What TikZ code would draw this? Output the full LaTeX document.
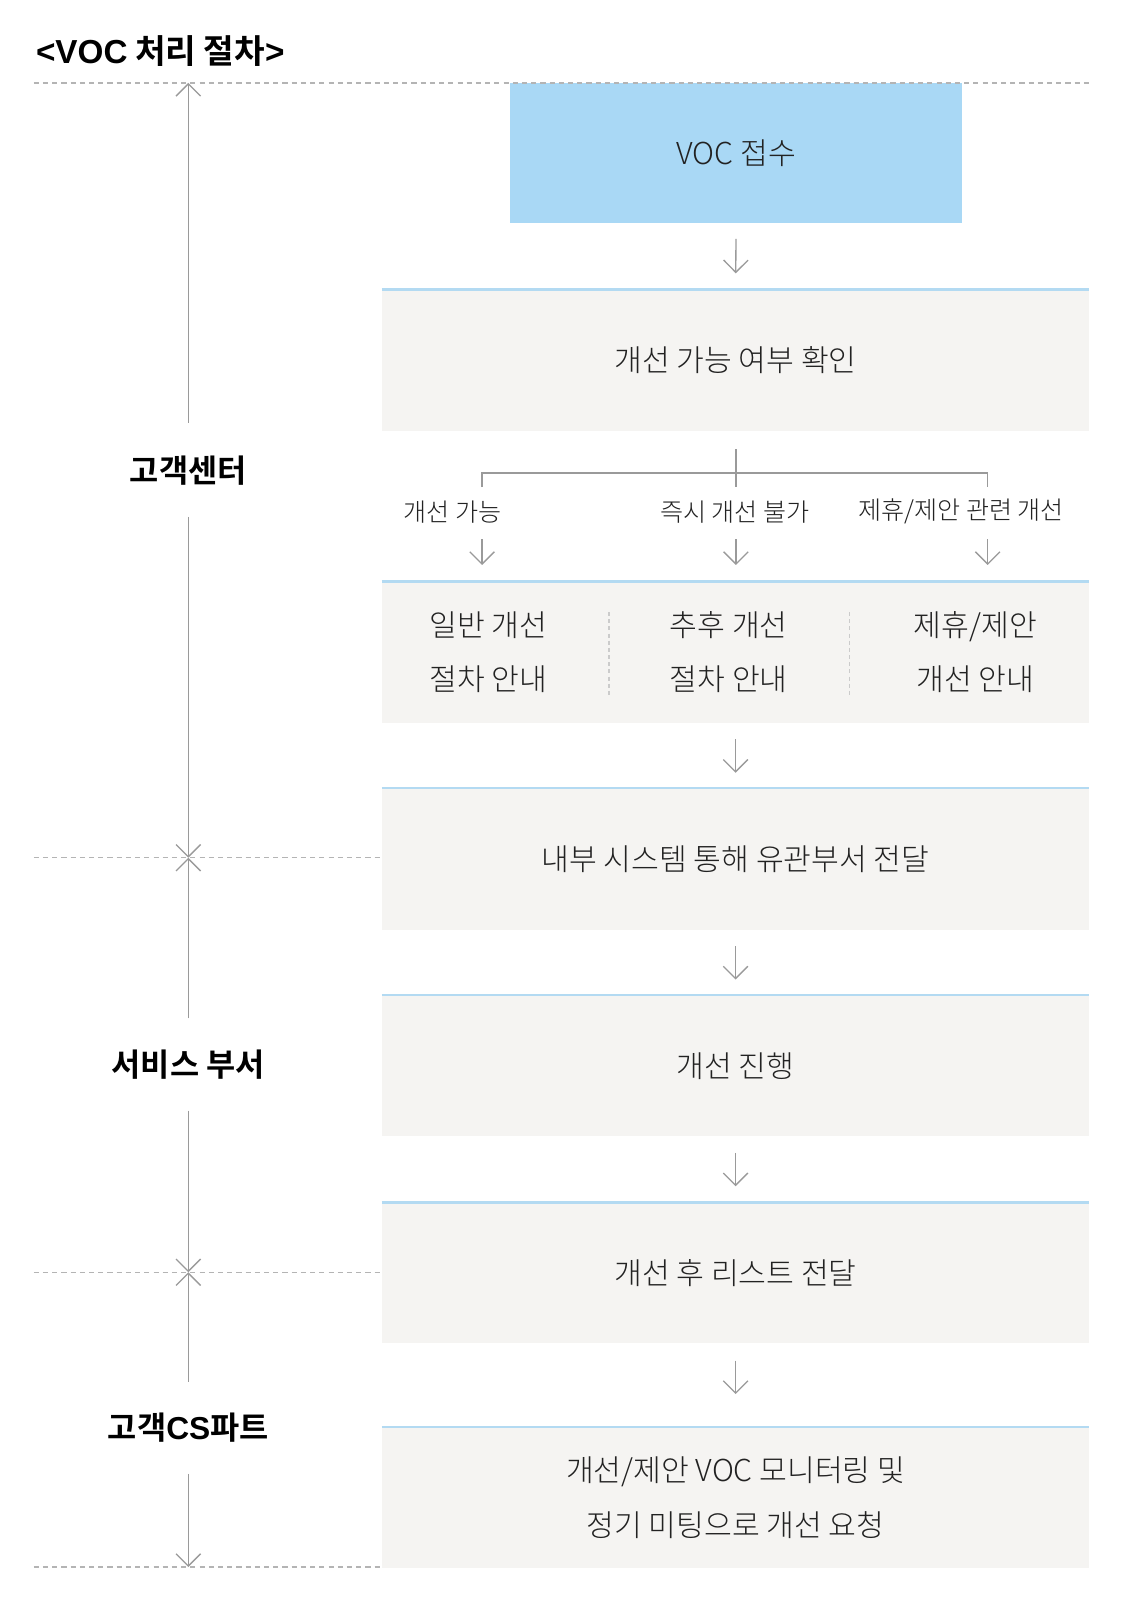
\documentclass[tikz,border=0pt]{standalone}
\usepackage{fontspec}
\IfFontExistsTF{Noto Sans CJK KR Light}{%
  \newfontfamily\kr{Noto Sans CJK KR Light}[BoldFont={Noto Sans CJK KR Bold}]%
}{%
  \newfontfamily\kr{Noto Sans CJK KR}%
}
\newfontfamily\krb{Noto Sans CJK KR Bold}
\newfontfamily\lat{Liberation Sans}
\usetikzlibrary{arrows.meta}
\definecolor{boxblue}{HTML}{A9D8F5}
\definecolor{lineblue}{HTML}{B3DAF2}
\definecolor{boxgray}{HTML}{F5F4F2}
\definecolor{linegray}{HTML}{9A9A9A}
\definecolor{dashgray}{HTML}{B4B4B4}
\definecolor{txt}{HTML}{222222}
\begin{document}
\begin{tikzpicture}[x=1pt,y=-1pt,
  every node/.style={font=\kr, text=txt},
  graybox/.style={fill=boxgray, draw=none, minimum width=691pt, minimum height=138pt, inner sep=0pt, anchor=north west, align=center, font=\kr\fontsize{29.5}{53}\selectfont},
  bluebox/.style={fill=boxblue, draw=none, minimum width=442pt, minimum height=137pt, inner sep=0pt, anchor=north west, font=\kr\fontsize{29.5}{53}\selectfont},
  coltext/.style={align=center, inner sep=0pt, font=\kr\fontsize{29.5}{53}\selectfont},
  branchlabel/.style={inner sep=0pt, font=\kr\fontsize{24.5}{28}\selectfont},
  sidelabel/.style={inner sep=0pt, font=\krb\fontsize{31}{34}\selectfont, text=black},
  titlelabel/.style={inner sep=0pt, anchor=west, font=\krb\fontsize{32.5}{36}\selectfont, text=black},
  topline/.style={draw=lineblue, line width=2.5pt},
  gline/.style={draw=linegray, line width=1.3pt},
  flowarr/.style={gline, -{Straight Barb[length=12pt,width=24pt]}},
  sidearr/.style={gline, -{Straight Barb[length=12pt,width=24pt]}},
  dashline/.style={draw=dashgray, line width=1.2pt, dash pattern=on 5pt off 4pt},
  divline/.style={draw=dashgray!70, line width=1pt, dash pattern=on 4pt off 3pt}
]
\fill[white] (0,0) rectangle (1100.1,1569.1);
\useasboundingbox (0,0) rectangle (1100.1,1569.1);

% title
\node[titlelabel] (title) at (35,50) {{\lat\bfseries <VOC} 처리 절차{\lat\bfseries >}};

% boxes
\node[bluebox] (voc) at (498,81) {VOC 접수};
\node[graybox] (b1) at (373,283) {개선 가능 여부 확인};
\node[graybox] (b2) at (373,568) {};
\node[graybox] (b3) at (373,770) {내부 시스템 통해 유관부서 전달};
\node[graybox] (b4) at (373,972) {개선 진행};
\node[graybox, minimum height=137pt] (b5) at (373,1175) {개선 후 리스트 전달};
\node[graybox] (b6) at (373,1394) {개선/제안 VOC 모니터링 및\\정기 미팅으로 개선 요청};

\foreach \b in {b1,b2,b3,b4,b5,b6}{
  \draw[topline] (\b.north west) -- (\b.north east);
}

% columns in box 2
\node[coltext] (c1) at (477,637) {일반 개선\\절차 안내};
\node[coltext] (c2) at (712,637) {추후 개선\\절차 안내};
\node[coltext] (c3) at (953,637) {제휴/제안\\개선 안내};
\coordinate (d1t) at (595,598); \coordinate (d1b) at (595,680);
\coordinate (d2t) at (830,598); \coordinate (d2b) at (830,680);
\draw[divline] (d1t) -- (d1b);
\draw[divline] (d2t) -- (d2b);

% flow arrows
\draw[flowarr, shorten <=15pt, shorten >=16pt] (voc.south) -- (b1.north);
\draw[flowarr, shorten <=16pt, shorten >=15pt] (b2.south) -- (b3.north);
\draw[flowarr, shorten <=16pt, shorten >=15pt] (b3.south) -- (b4.north);
\draw[flowarr, shorten <=16pt, shorten >=16pt] (b4.south) -- (b5.north);
\draw[flowarr, shorten <=17pt, shorten >=32pt] (b5.south) -- (b6.north);

% branch
\coordinate (bt) at (719,439);
\coordinate (bc) at (719,462);
\coordinate (bcd) at (719,476);
\coordinate (bl) at (471,462);
\coordinate (bld) at (471,476);
\coordinate (br) at (965,462);
\coordinate (brd) at (965,476);
\draw[gline] (bt) -- (bcd);
\draw[gline] (bld) -- (bl) -- (br) -- (brd);

\node[branchlabel] (l1) at (442,500) {개선 가능};
\node[branchlabel] (l2) at (718,500) {즉시 개선 불가};
\node[branchlabel] (l3) at (939,500) {제휴/제안 관련 개선};

\coordinate (a1s) at (471,527); \coordinate (a1e) at (471,552);
\coordinate (a2s) at (719,527); \coordinate (a2e) at (719,552);
\coordinate (a3s) at (965,527); \coordinate (a3e) at (965,552);
\draw[flowarr] (a1s) -- (a1e);
\draw[flowarr] (a2s) -- (a2e);
\draw[flowarr] (a3s) -- (a3e);

% side structure
\node[sidelabel] (cc) at (184,460) {고객센터};
\node[sidelabel] (sv) at (184,1040) {서비스 부서};
\node[sidelabel] (cs) at (184,1395) {고객{\lat\bfseries CS}파트};

\coordinate (m0) at (184,81);
\coordinate (m1) at (184,838);
\coordinate (m2) at (184,1243);
\coordinate (m3) at (184,1531);

\coordinate (e0l) at (33,81); \coordinate (e0r) at (1066,81);
\coordinate (e1l) at (33,838);
\coordinate (e2l) at (33,1243);
\coordinate (e3l) at (33,1531);

\draw[dashline] (e0l) -- (e0r);
\draw[dashline] (e1l) -- (b3.west |- m1);
\draw[dashline] (e2l) -- (b5.west |- m2);
\draw[dashline] (e3l) -- (b6.west |- m3);

\draw[sidearr, shorten <=47pt] (cc.center) -- (m0);
\draw[sidearr, shorten <=45pt] (cc.center) -- (m1);
\draw[sidearr, shorten <=45pt] (sv.center) -- (m1);
\draw[sidearr, shorten <=45pt] (sv.center) -- (m2);
\draw[sidearr, shorten <=45pt] (cs.center) -- (m2);
\draw[sidearr, shorten <=45pt] (cs.center) -- (m3);
\end{tikzpicture}
\end{document}
